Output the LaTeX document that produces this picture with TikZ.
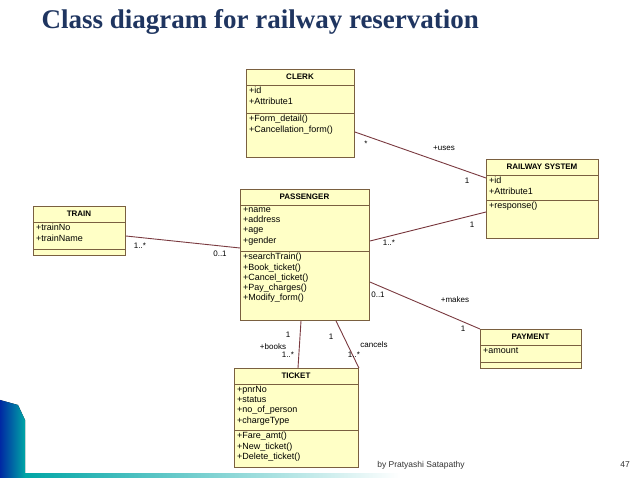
\documentclass[tikz,border=0pt]{standalone}
\usepackage{fontspec}
\setmainfont{Liberation Sans}
\newfontfamily\titlefont{Liberation Serif}
\usetikzlibrary{calc}
\definecolor{boxfill}{HTML}{FFFFC6}
\definecolor{boxline}{HTML}{7A6040}
\definecolor{conn}{HTML}{7A3A40}
\definecolor{titlec}{HTML}{1F3560}
\tikzset{
  box/.style={draw=boxline, fill=boxfill, line width=0.9pt, inner sep=0pt},
  sep/.style={draw=boxline, line width=0.9pt},
  cname/.style={font=\fontsize{8}{9}\selectfont\bfseries, anchor=center},
  members/.style={font=\fontsize{9}{10.3}\selectfont, align=left, anchor=north west, inner sep=0pt},
  conn/.style={draw=conn, line width=0.9pt},
  lab/.style={font=\fontsize{8}{9}\selectfont, inner sep=0pt}
}
% name, x1, y1, x2, y2, divider y, title, attrs, methods
\newcommand\umlbox[9]{%
  \node[box, minimum width=#4-#2, minimum height=#5-#3, anchor=north west] (#1) at (#2,#3) {};
  \draw[sep] (#2,#3+16) -- (#4,#3+16);
  \draw[sep] (#2,#6) -- (#4,#6);
  \node[cname] (#1-t) at ({(#2+#4)/2},#3+8) {#7};
  \node[members] (#1-a) at (#2+3,#3+18) {#8};
  \node[members] (#1-m) at (#2+3,#6+2) {#9};
}
\begin{document}
\begin{tikzpicture}[x=1pt,y=-1pt]
\useasboundingbox (0,0) rectangle (638,478);
\fill[white] (0,0) rectangle (638,478);
\fill[left color=blue!60!teal!80!black, right color=teal!70!cyan] (0,400) -- (18,405) -- (25,420) -- (25,478) -- (0,478) -- cycle;
\shade[left color=teal!70!cyan, right color=white] (25,474) rectangle (400,478);
\node[font=\titlefont\fontsize{27}{30}\selectfont\bfseries, text=titlec, anchor=west] (title) at (38,22) {Class diagram for railway reservation};

\umlbox{clerk}{246}{69}{354}{157}{113}{CLERK}{+id\\+Attribute1}{+Form\_detail()\\+Cancellation\_form()}
\umlbox{rail}{486}{159}{598}{238}{200}{RAILWAY SYSTEM}{+id\\+Attribute1}{+response()}
\umlbox{pass}{240}{189}{369}{320}{251}{PASSENGER}{+name\\+address\\+age\\+gender}{+searchTrain()\\+Book\_ticket()\\+Cancel\_ticket()\\+Pay\_charges()\\+Modify\_form()}
\umlbox{train}{33}{206}{125}{255}{249}{TRAIN}{+trainNo\\+trainName}{}
\umlbox{pay}{480}{329}{581}{368}{362}{PAYMENT}{+amount}{}
\umlbox{ticket}{234}{368}{358}{467}{430}{TICKET}{+pnrNo\\+status\\+no\_of\_person\\+chargeType}{+Fare\_amt()\\+New\_ticket()\\+Delete\_ticket()}

\draw[conn] (clerk.east |- 0,132) -- (rail.west |- 0,178);
\draw[conn] (pass.east |- 0,241) -- (rail.west |- 0,212);
\draw[conn] (train.east |- 0,236) -- (pass.west |- 0,248);
\draw[conn] (pass.east |- 0,282) -- (pay.north west);
\draw[conn] (pass.south -| 301,0) -- (ticket.north -| 298,0);
\draw[conn] (pass.south -| 336,0) -- (ticket.north east);

\node[lab] (l1) at (366,144) {*};
\node[lab] (l2) at (444,148) {+uses};
\node[lab] (l3) at (467,181) {1};
\node[lab] (l4) at (472,225) {1};
\node[lab] (l5) at (389,243) {1..*};
\node[lab] (l6) at (140,246) {1..*};
\node[lab] (l7) at (220,254) {0..1};
\node[lab] (l8) at (378,295) {0..1};
\node[lab] (l9) at (455,300) {+makes};
\node[lab] (l10) at (463,329) {1};
\node[lab] (l11) at (288,335) {1};
\node[lab] (l12) at (273,347) {+books};
\node[lab] (l13) at (288,355) {1..*};
\node[lab] (l14) at (331,337) {1};
\node[lab] (l15) at (374,345) {cancels};
\node[lab] (l16) at (354,355) {1..*};

\node[font=\fontsize{8.5}{10}\selectfont, text=black!80] (foot) at (421,465) {by Pratyashi Satapathy};
\node[font=\fontsize{8.5}{10}\selectfont, text=black!80] (num) at (625,465) {47};
\end{tikzpicture}
\end{document}
